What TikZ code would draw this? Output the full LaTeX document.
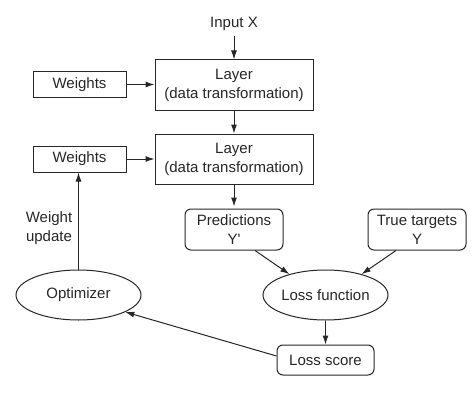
\documentclass[tikz,border=0pt]{standalone}
\usepackage{fontspec}
\setmainfont{Liberation Sans}
\usetikzlibrary{arrows.meta,shapes.geometric}
\begin{document}
\begin{tikzpicture}[x=1pt,y=-1pt,
  every node/.style={font=\fontsize{15}{19}\selectfont, text=black!85},
  box/.style={draw=black!85, line width=1pt, rectangle, inner sep=0pt, align=center},
  rbox/.style={box, rounded corners=6pt},
  oval/.style={draw=black!85, line width=1pt, ellipse, inner sep=0pt, minimum width=125pt, minimum height=50pt},
  conn/.style={draw=black!85, line width=1pt, -{Latex[length=9pt,width=6pt]}},
  plain/.style={inner sep=0pt, align=center}]
\useasboundingbox (0,0) rectangle (474,412);
\node[plain] (input) at (234,24) {Input X};
\node[box, minimum width=158pt, minimum height=50pt] (layer1) at (234,85) {Layer\\(data transformation)};
\node[box, minimum width=93pt, minimum height=25pt] (w1) at (79.5,84.5) {Weights};
\node[box, minimum width=158pt, minimum height=50pt] (layer2) at (234,159) {Layer\\(data transformation)};
\node[box, minimum width=93pt, minimum height=26pt] (w2) at (79.5,159) {Weights};
\node[rbox, minimum width=98pt, minimum height=41pt] (pred) at (234,229.5) {Predictions\\Y\textquotesingle};
\node[rbox, minimum width=98pt, minimum height=41pt] (tt) at (417,229.5) {True targets\\Y};
\node[oval] (loss) at (325.5,295) {Loss function};
\node[oval] (opt) at (78.5,295) {Optimizer};
\node[rbox, minimum width=97pt, minimum height=30pt] (lscore) at (325.5,360) {Loss score};
\node[plain] (wu) at (49,228) {Weight\\update};
\draw[conn] ([yshift=-5pt]input.south) -- (layer1.north);
\draw[conn] (w1.east) -- (layer1.west |- w1.east);
\draw[conn] (layer1.south) -- (layer2.north);
\draw[conn] (w2.east) -- (layer2.west |- w2.east);
\draw[conn] (layer2.south) -- ([yshift=2pt]pred.north);
\draw[conn] ([xshift=21pt]pred.south) -- (loss.150);
\draw[conn] ([xshift=-21pt]tt.south) -- (loss.30);
\draw[conn] (loss.south) -- (lscore.north);
\draw[conn] ([yshift=4pt]lscore.west) -- (opt.-20);
\draw[conn] (opt.north) -- (w2.south -| opt.north);
\end{tikzpicture}
\end{document}
